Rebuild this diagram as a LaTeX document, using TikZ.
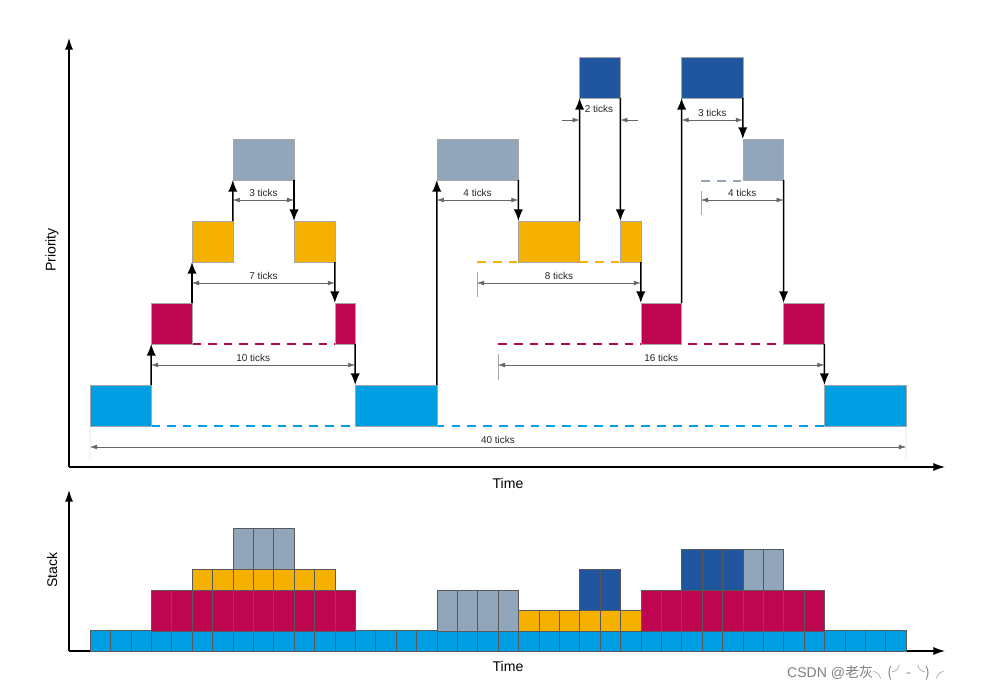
\documentclass[tikz,border=0pt]{standalone}
\usepackage{fontspec}
\setmainfont{Liberation Sans}
\newfontfamily\cjk{Noto Sans CJK SC}
\usetikzlibrary{arrows.meta,positioning}

\definecolor{cblue}{RGB}{0,159,227}
\definecolor{cmag}{RGB}{190,6,80}
\definecolor{corange}{RGB}{246,176,0}
\definecolor{cgrey}{RGB}{145,166,187}
\definecolor{cdblue}{RGB}{31,86,158}

% one task block on the priority chart: name, first tick, last tick, level, colour
\newcommand{\taskblk}[5]{%
  \node[task, fill=#5, minimum width={(#3-#2)*0.612cm}]
    at ({90+10.2*(#2+#3)}, {405.5-82*#4}) (#1) {};}
% one row of stack cells: first tick, end tick, bottom y, height, colour
\newcommand{\stackrow}[5]{%
  \pgfmathtruncatemacro{\lastt}{#2-1}%
  \foreach \t in {#1,...,\lastt}
    \draw[cell, fill=#5] ({90+20.4*\t},#3) rectangle ++(20.4,-#4);}

\begin{document}
\begin{tikzpicture}[
    x=0.03cm, y=-0.03cm,
    task/.style={rectangle, draw=gray!70, line width=0.4pt, fill=white, minimum height=1.23cm, inner sep=0, outer sep=0},
    cell/.style={draw=black!65, line width=0.3pt},
    axis/.style={-{Latex[length=10pt,width=7pt]}, line width=1.1pt},
    switch/.style={-{Latex[length=10pt,width=8pt]}, line width=1.3pt},
    dim/.style={{Latex[length=6pt,width=4pt]}-{Latex[length=6pt,width=4pt]}, gray!80!black, line width=0.4pt},
    half/.style={-{Latex[length=6pt,width=4pt]}, gray!80!black, line width=0.4pt},
    ext/.style={gray!70, line width=0.4pt},
    idle/.style={line width=1.3pt, dash pattern=on 7.5pt off 6pt},
    lbl/.style={font=\fontsize{8.5}{10}\selectfont, text=black!85, inner sep=1pt},
    ttl/.style={font=\fontsize{12}{14}\selectfont},
]
\useasboundingbox (0,0) rectangle (1002,693);

% axes
\coordinate (o1) at (69,467);
\coordinate (o2) at (69,651);
\draw[axis] (o1) -- (69,38);
\draw[axis] (o1) -- (945,467);
\draw[axis] (o2) -- (69,490);
\draw[axis] (o2) -- (945,651);
\node[ttl, rotate=90] (prio) at (52,250) {Priority};
\node[ttl] (time1) at (508,483) {Time};
\node[ttl, rotate=90] (stk) at (52,570) {Stack};
\node[ttl] (time2) at (508,666) {Time};

% idle (preempted) dashes
\draw[idle, cblue] (151,426) -- (824,426);
\draw[idle, cmag] (192,344) -- (335,344);
\draw[idle, cmag] (498,344) -- (783,344);
\draw[idle, corange] (477,262) -- (518,262);
\draw[idle, corange] (579,262) -- (620,262);
\draw[idle, cgrey] (701,181) -- (742,181);

% tasks
\taskblk{bl1}{0}{3}{0}{cblue}
\taskblk{mg1}{3}{5}{1}{cmag}
\taskblk{or1}{5}{7}{2}{corange}
\taskblk{gr1}{7}{10}{3}{cgrey}
\taskblk{or2}{10}{12}{2}{corange}
\taskblk{mg2}{12}{13}{1}{cmag}
\taskblk{bl2}{13}{17}{0}{cblue}
\taskblk{gr2}{17}{21}{3}{cgrey}
\taskblk{or3}{21}{24}{2}{corange}
\taskblk{db1}{24}{26}{4}{cdblue}
\taskblk{or4}{26}{27}{2}{corange}
\taskblk{mg3}{27}{29}{1}{cmag}
\taskblk{db2}{29}{32}{4}{cdblue}
\taskblk{gr3}{32}{34}{3}{cgrey}
\taskblk{mg4}{34}{36}{1}{cmag}
\taskblk{bl3}{36}{40}{0}{cblue}

% context switches
\draw[switch] (bl1.north east) -- (mg1.south west);
\draw[switch] (mg1.north east) -- (or1.south west);
\draw[switch] (or1.north east) -- (gr1.south west);
\draw[switch] (gr1.south east) -- (or2.north west);
\draw[switch] (or2.south east) -- (mg2.north west);
\draw[switch] (mg2.south east) -- (bl2.north west);
\draw[switch] (bl2.north east) -- (gr2.south west);
\draw[switch] (gr2.south east) -- (or3.north west);
\draw[switch] (or3.north east) -- (db1.south west);
\draw[switch] (db1.south east) -- (or4.north west);
\draw[switch] (or4.south east) -- (mg3.north west);
\draw[switch] (mg3.north east) -- (db2.south west);
\draw[switch] (db2.south east) -- (gr3.north west);
\draw[switch] (gr3.south east) -- (mg4.north west);
\draw[switch] (mg4.south east) -- (bl3.north west);

% durations
\draw[dim] (gr1.south west |- 0,200) -- node[lbl, above=2pt] {3 ticks} (gr1.south east |- 0,200);
\draw[dim] (or1.south west |- 0,283) -- node[lbl, above=2pt] {7 ticks} (or2.south east |- 0,283);
\draw[dim] (mg1.south west |- 0,365) -- node[lbl, above=2pt] {10 ticks} (mg2.south east |- 0,365);
\draw[ext] (bl1.south west) -- (90,458);
\draw[ext] (bl3.south east) -- (906,458);
\draw[dim] (bl1.south west |- 0,447) -- node[lbl, above=2pt] {40 ticks} (bl3.south east |- 0,447);
\draw[dim] (gr2.south west |- 0,200) -- node[lbl, above=2pt] {4 ticks} (gr2.south east |- 0,200);
\coordinate (d2a) at (562,120);
\coordinate (d2b) at (638,120);
\draw[half] (d2a) -- (db1.south west |- d2a);
\draw[half] (d2b) -- (db1.south east |- d2b);
\node[lbl] (l2) at (599,109) {2 ticks};
\draw[dim] (db2.south west |- 0,120) -- node[lbl, above=2pt] {3 ticks} (db2.south east |- 0,120);
\draw[ext] (477,272) -- (477,297);
\draw[dim] (477,283) -- node[lbl, above=2pt] {8 ticks} (or4.south east |- 0,283);
\draw[ext] (498,354) -- (498,380);
\draw[dim] (498,365) -- node[lbl, above=2pt] {16 ticks} (mg4.south east |- 0,365);
\draw[ext] (701,191) -- (701,215);
\draw[dim] (701,200) -- node[lbl, above=2pt] {4 ticks} (gr3.south east |- 0,200);

% stack usage
\stackrow{0}{40}{651}{20.5}{cblue}
\stackrow{3}{13}{631}{41}{cmag}
\stackrow{5}{12}{590}{20.5}{corange}
\stackrow{7}{10}{569}{41}{cgrey}
\stackrow{17}{21}{631}{41}{cgrey}
\stackrow{21}{27}{631}{20.5}{corange}
\stackrow{24}{26}{610}{41}{cdblue}
\stackrow{27}{36}{631}{41}{cmag}
\stackrow{29}{32}{590}{41}{cdblue}
\stackrow{32}{34}{590}{41}{cgrey}

\node[ttl, gray, anchor=west] (mark) at (783,673) {CSDN @{\cjk 老灰╮(╯-╰)╭}};
\end{tikzpicture}
\end{document}
